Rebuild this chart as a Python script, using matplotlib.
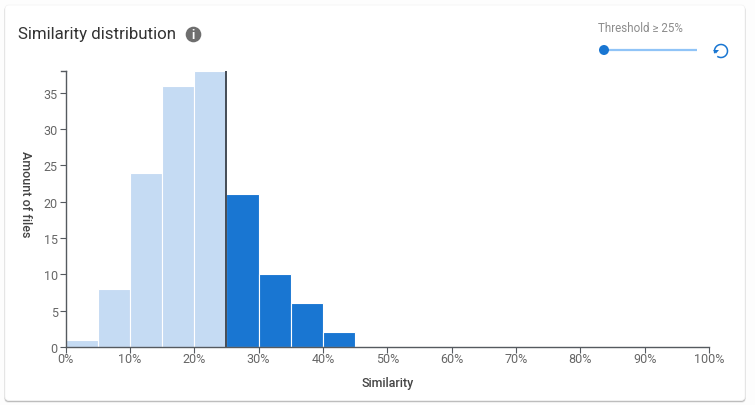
import matplotlib
matplotlib.use("Agg")
import matplotlib.pyplot as plt
from matplotlib.patches import FancyBboxPatch, Circle, Arc, Polygon

plt.rcParams['font.family'] = ['Roboto', 'DejaVu Sans']

W, H = 755, 406

bin_edges = [0, 5, 10, 15, 20, 25, 30, 35, 40, 45]
counts = [1, 8, 24, 36, 38, 21, 10, 6, 2]
threshold = 25
y_ticks = [0, 5, 10, 15, 20, 25, 30, 35]
x_ticks = [0, 10, 20, 30, 40, 50, 60, 70, 80, 90, 100]

LIGHT = '#c5dbf3'
DARK = '#1976d2'
AXIS = '#555a5f'
TEXT = '#666666'

fig = plt.figure(figsize=(W / 100, H / 100), dpi=100, facecolor='#fdfdfd')

# background layer in pixel coords, y going down like the screenshot
bg = fig.add_axes([0, 0, 1, 1])
bg.set_xlim(0, W)
bg.set_ylim(H, 0)
bg.axis('off')

# card shadow, then the card
for grow, col in [(1.6, '#e6e6e6'), (0.8, '#b4b4b4')]:
    bg.add_patch(FancyBboxPatch((5 - grow * 0.4, 6 + grow), 740 + grow * 0.8, 396,
                                boxstyle='round,pad=0,rounding_size=4', fc=col, ec='none'))
bg.add_patch(FancyBboxPatch((5, 6), 740, 395.5, boxstyle='round,pad=0,rounding_size=4',
                            fc='white', ec='#f4f4f4', lw=0.6))

bg.text(18.5, 34.6, 'Similarity distribution', fontsize=12.2, color='#333333', va='center', ha='left')

# info icon
bg.add_patch(Circle((193.5, 35.5), 7.8, fc='#6e6e6e', ec='none'))
bg.text(193.5, 35.8, 'i', fontsize=9, fontweight='bold', color='white', ha='center', va='center')

# threshold slider
bg.text(598, 28.5, 'Threshold \u2265 25%', fontsize=8.4, color='#8c8c8c', va='center', ha='left')
bg.plot([604, 697], [51, 51], color='#90c4f7', lw=1.6, solid_capstyle='butt', zorder=1)
bg.add_patch(Circle((604, 51), 5, fc=DARK, ec='none', zorder=2))

# reset icon
bg.add_patch(Arc((721, 52), 13, 13, theta1=-200, theta2=125, color=DARK, lw=1.1))
bg.add_patch(Polygon([(713, 51), (719, 51), (716, 54.5)], fc=DARK, ec='none'))

ax = fig.add_axes([65.5 / W, 1 - 348 / H, (709 - 65.5) / W, (348 - 72) / H])
ax.patch.set_alpha(0)

widths = [b - a for a, b in zip(bin_edges[:-1], bin_edges[1:])]
colors = [DARK if a >= threshold else LIGHT for a in bin_edges[:-1]]
ax.bar(bin_edges[:-1], counts, width=widths, align='edge', color=colors,
       edgecolor='white', linewidth=0.8, zorder=2)
ax.axvline(threshold, color='#444c55', lw=1.4, zorder=3)

ax.set_xlim(0, 100)
ax.set_ylim(0, 38)
ax.set_xticks(x_ticks)
ax.set_xticklabels([f'{v}%' for v in x_ticks])
ax.set_yticks(y_ticks)

for side in ['top', 'right']:
    ax.spines[side].set_visible(False)
for side in ['left', 'bottom']:
    ax.spines[side].set_color(AXIS)
    ax.spines[side].set_linewidth(1.0)
    ax.spines[side].set_zorder(4)
ax.tick_params(axis='both', colors=AXIS, labelcolor=TEXT, labelsize=9, length=4, width=0.8)
ax.tick_params(axis='x', pad=-0.5)
ax.tick_params(axis='y', pad=1.5)

# small end tick where the y axis stops
ax.plot([-0.7, 0], [38, 38], color=AXIS, lw=1.0, clip_on=False)

ax.set_xlabel('Similarity', fontsize=9, fontweight='medium', color='#444444', labelpad=8)
# y label reads top to bottom in the reference
fig.text(25 / W, 1 - 194.5 / H, 'Amount of files', rotation=270, fontsize=9, fontweight='medium',
         color='#444444', ha='center', va='center')

fig.savefig('out.png', dpi=100, facecolor=fig.get_facecolor())
